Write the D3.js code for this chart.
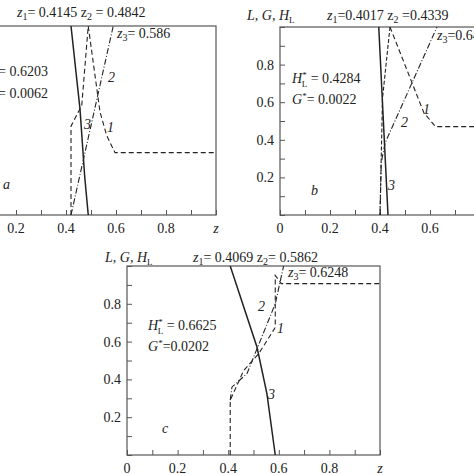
<!DOCTYPE html><html><head><meta charset="utf-8"><script src="https://cdn.jsdelivr.net/npm/d3@7"></script>
<style>body{margin:0;background:#fff}svg text{font-family:'Liberation Serif','DejaVu Serif',serif;font-size:14px;fill:#222}</style></head><body>
<svg id="c" width="474" height="474" font-family="Liberation Serif, DejaVu Serif, serif"></svg>
<script>
const xTicks=[0,0.2,0.4,0.6,0.8];
const yTicks=[0.2,0.4,0.6,0.8];
// panel a
const a_c1=[[0.489,1],[0.536,0.545],[0.563,0.42],[0.596,0.33],[1,0.33]];
const a_c1b=[[0.42,0],[0.42,0.47],[0.463,0.58],[0.489,1]];
const a_c2=[[0.42,0],[0.589,1]];
const a_c3=[[0.42,1],[0.456,0.56],[0.475,0.2],[0.489,0]];
// panel b
const b_c1=[[0.44,1],[0.575,0.545],[0.622,0.47],[1,0.47]];
const b_c1b=[[0.44,1],[0.41,0.62],[0.4,0]];
const b_c2=[[0.4,0],[0.405,0.28],[0.421,0.385],[0.628,1]];
const b_c3=[[0.395,1],[0.432,0]];
// panel c
const c_c1=[[0.408,0],[0.408,0.29],[0.461,0.447],[0.52,0.535],[0.586,0.675],[0.586,0.95],[0.61,0.907],[1,0.907]];
const c_c2=[[0.408,0.29],[0.415,0.36],[0.474,0.43],[0.586,0.8],[0.619,1]];
const c_c3=[[0.408,1],[0.514,0.57],[0.553,0.325],[0.586,0]];

const panels=[
 {x0:-34,x1:216,y0:215,y1:26,curves:[[a_c1,"5,3"],[a_c1b,"5,3"],[a_c2,"6,2,1,2"],[a_c3,null]],yl:false,
  texts:[[17,17,"z<tspan dy='3' font-size='10'>1</tspan><tspan dy='-3'>= 0.4145 z</tspan><tspan dy='3' font-size='10'>2</tspan><tspan dy='-3'> = 0.4842</tspan>"],
  [117,38,"z<tspan dy='3' font-size='10'>3</tspan><tspan dy='-3'>= 0.586</tspan>"],[-2,76,"= 0.6203"],[-2,98,"= 0.0062"],[3,189,"<tspan font-style='italic'>a</tspan>"],
  [84,129,"<tspan font-style='italic'>3</tspan>"],[107,132,"<tspan font-style='italic'>1</tspan>"],[108,82,"<tspan font-style='italic'>2</tspan>"]],xlab:[0.2,0.4,0.6,0.8]},
 {x0:280,x1:530,y0:215,y1:27,curves:[[b_c1,"5,3"],[b_c1b,"4,2"],[b_c2,"6,2,1,2"],[b_c3,null]],yl:true,
  texts:[[247,20,"<tspan font-style='italic'>L, G, H</tspan><tspan dy='3' font-size='9'>L</tspan>"],
  [327,20,"z<tspan dy='3' font-size='10'>1</tspan><tspan dy='-3'>=0.4017 z</tspan><tspan dy='3' font-size='10'>2</tspan><tspan dy='-3'> =0.4339</tspan>"],
  [437,40,"z<tspan dy='3' font-size='10'>3</tspan><tspan dy='-3'>=0.64</tspan>"],
  [292,83,"<tspan font-style='italic'>H</tspan><tspan dy='-5' font-size='9'>*</tspan><tspan dy='9' dx='-5' font-size='9'>L</tspan><tspan dy='-4'> = 0.4284</tspan>"],
  [292,104,"<tspan font-style='italic'>G</tspan><tspan dy='-5' font-size='9'>*</tspan><tspan dy='5'>= 0.0022</tspan>"],
  [423,114,"<tspan font-style='italic'>1</tspan>"],[401,127,"<tspan font-style='italic'>2</tspan>"],[388,190,"<tspan font-style='italic'>3</tspan>"],[311,195,"<tspan font-style='italic'>b</tspan>"]],xlab:[0,0.2,0.4,0.6]},
 {x0:127,x1:380,y0:455,y1:266,curves:[[c_c1,"5,3"],[c_c2,"6,2,1,2"],[c_c3,null]],yl:true,
  texts:[[105,262,"<tspan font-style='italic'>L, G, H</tspan><tspan dy='3' font-size='9'>L</tspan>"],
  [193,262,"z<tspan dy='3' font-size='10'>1</tspan><tspan dy='-3'>= 0.4069 z</tspan><tspan dy='3' font-size='10'>2</tspan><tspan dy='-3'>= 0.5862</tspan>"],
  [288,277,"z<tspan dy='3' font-size='10'>3</tspan><tspan dy='-3'>= 0.6248</tspan>"],
  [148,330,"<tspan font-style='italic'>H</tspan><tspan dy='-5' font-size='9'>*</tspan><tspan dy='9' dx='-5' font-size='9'>L</tspan><tspan dy='-4'> = 0.6625</tspan>"],
  [148,351,"<tspan font-style='italic'>G</tspan><tspan dy='-5' font-size='9'>*</tspan><tspan dy='5'>=0.0202</tspan>"],
  [258,311,"<tspan font-style='italic'>2</tspan>"],[277,333,"<tspan font-style='italic'>1</tspan>"],[268,399,"<tspan font-style='italic'>3</tspan>"],[162,433,"<tspan font-style='italic'>c</tspan>"]],xlab:[0,0.2,0.4,0.6,0.8]}
];
const svg=d3.select("#c");
panels.forEach(p=>{
 const x=d3.scaleLinear().domain([0,1]).range([p.x0,p.x1]);
 const y=d3.scaleLinear().domain([0,1]).range([p.y0,p.y1]);
 const g=svg.append("g");
 g.append("rect").attr("x",p.x0).attr("y",p.y1).attr("width",p.x1-p.x0).attr("height",p.y0-p.y1).attr("fill","none").attr("stroke","#555").attr("stroke-width",1.2);
 g.append("g").attr("transform",`translate(0,${p.y0})`).call(d3.axisTop(x).ticks(10).tickSize(5).tickFormat("")).call(s=>s.select(".domain").remove()).selectAll("line").attr("stroke","#555");
 g.append("g").attr("transform",`translate(${p.x0},0)`).call(d3.axisRight(y).ticks(10).tickSize(5).tickFormat("")).call(s=>s.select(".domain").remove()).selectAll("line").attr("stroke","#555");
 p.xlab.forEach(t=>g.append("text").attr("x",x(t)).attr("y",p.y0+18).attr("text-anchor","middle").text(t===0?"0":t));
 g.append("text").attr("x",p.x1).attr("y",p.y0+18).attr("text-anchor","middle").attr("font-style","italic").text("z");
 if(p.yl) yTicks.forEach(t=>g.append("text").attr("x",p.x0-6).attr("y",y(t)+5).attr("text-anchor","end").text(t));
 const line=d3.line().x(d=>x(d[0])).y(d=>y(d[1]));
 p.curves.forEach(([d,dash])=>g.append("path").attr("d",line(d)).attr("fill","none").attr("stroke","#222").attr("stroke-width",dash?1.1:1.5).attr("stroke-dasharray",dash));
 p.texts.forEach(([tx,ty,h])=>g.append("text").attr("x",tx).attr("y",ty).html(h.replace(/(^|>)z</g,"$1<tspan font-style='italic'>z</tspan><")));
});
svg.selectAll("text").attr("font-family","Liberation Serif, DejaVu Serif, serif");
</script></body></html>
